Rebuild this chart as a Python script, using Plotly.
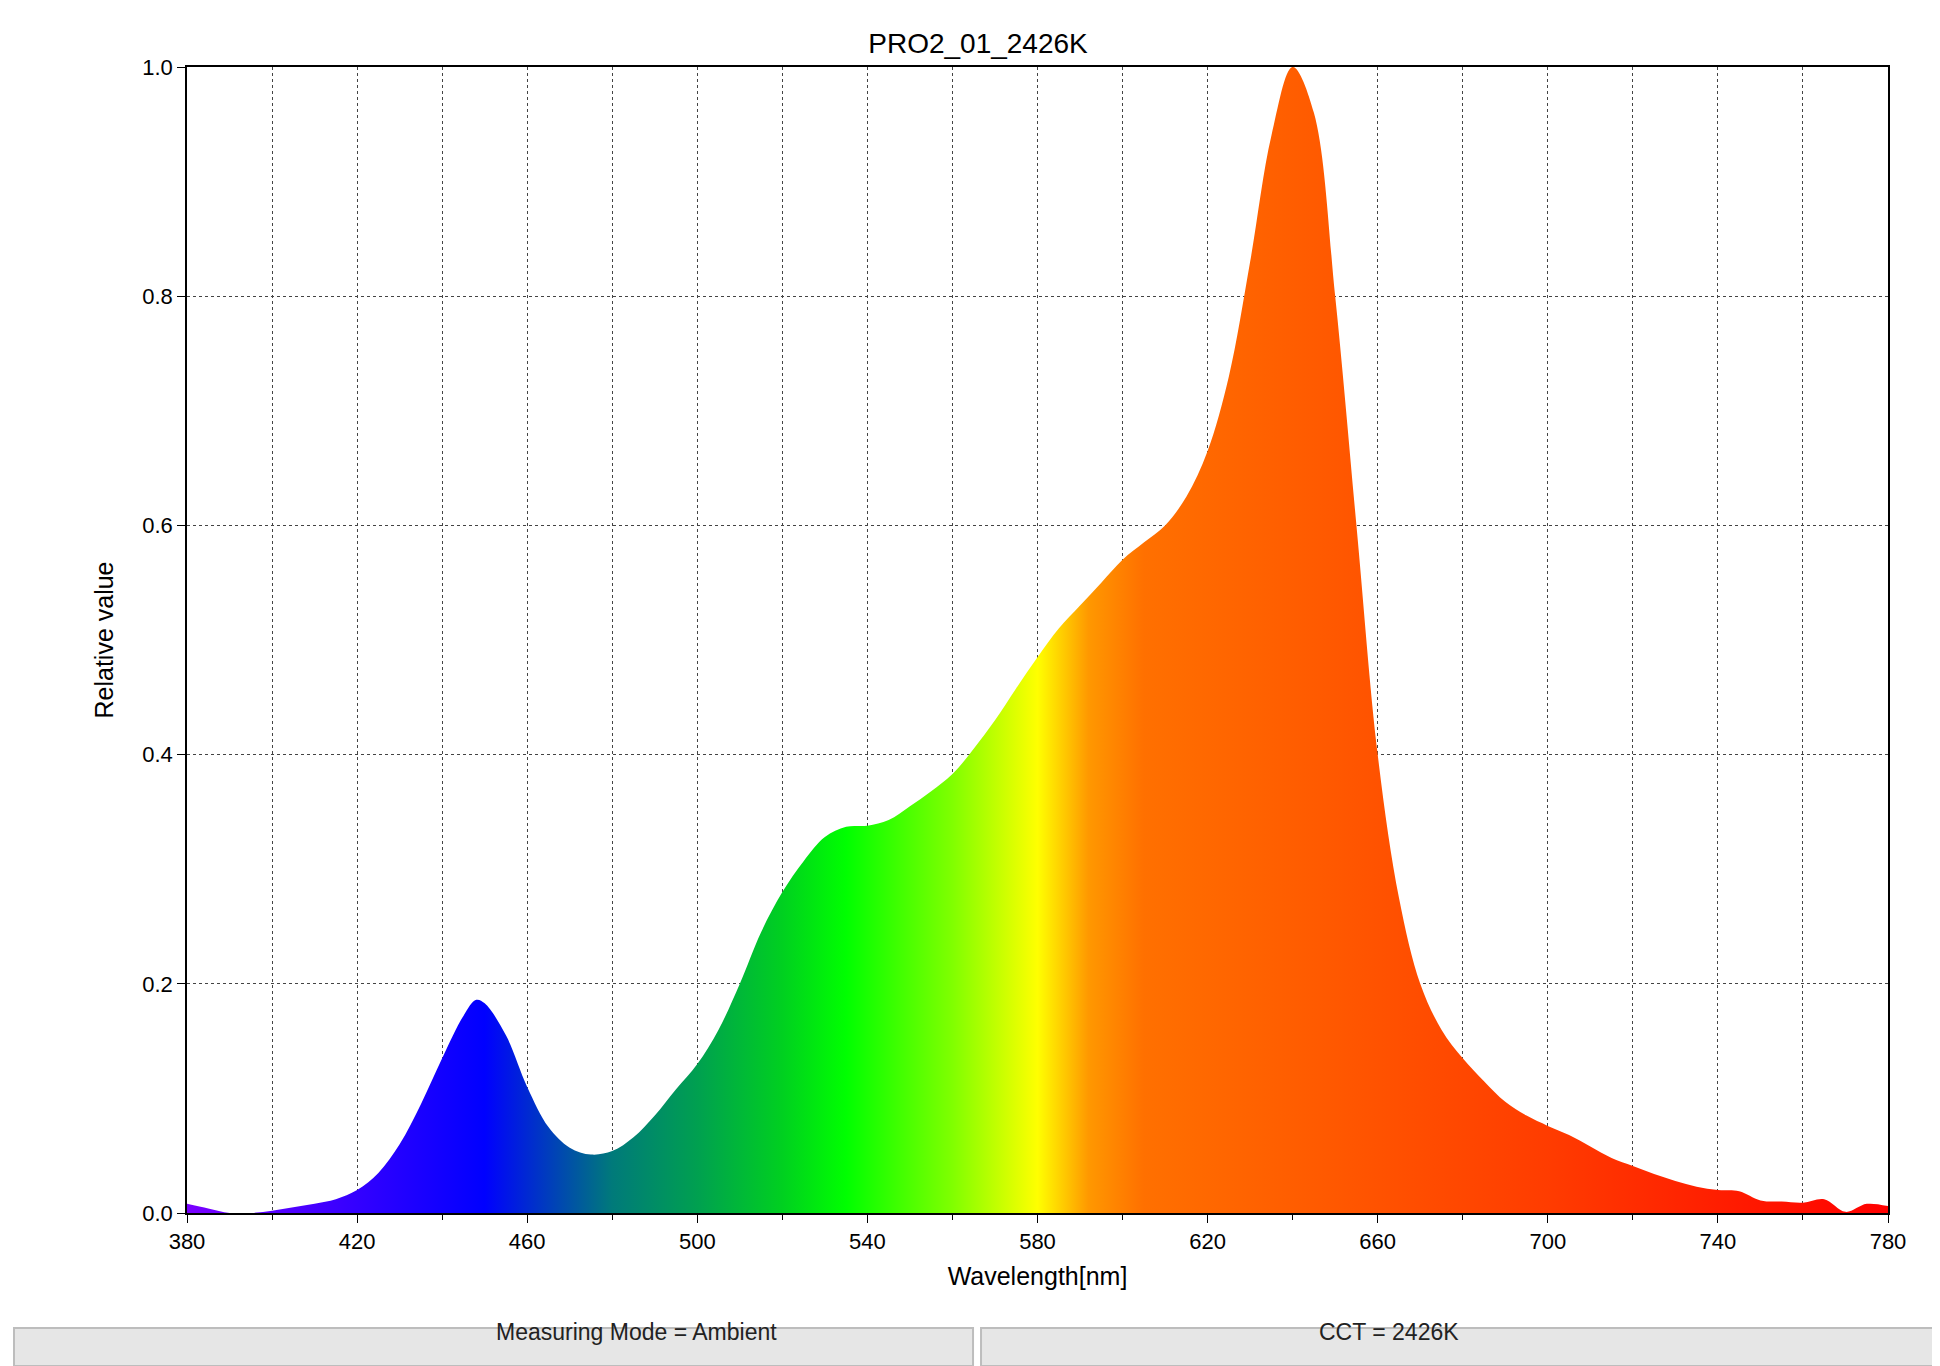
import plotly.graph_objects as go

wavelength = [380,385,390,395,400,405,410,415,420,425,430,435,440,445,448,450,455,460,465,470,475,480,485,490,495,
              500,505,510,515,520,525,530,535,540,545,550,555,560,565,570,575,580,585,590,595,600,605,610,615,620,
              625,630,635,640,645,650,655,660,665,670,675,680,685,690,695,700,705,710,715,720,725,730,735,740,745,
              750,755,760,765,770,775,780]
relative = [0.008,0.004,0.0,0.0,0.002,0.005,0.008,0.012,0.02,0.035,0.06,0.095,0.135,0.172,0.186,0.183,0.155,0.11,0.075,0.057,
            0.051,0.054,0.066,0.085,0.108,0.13,0.16,0.2,0.245,0.28,0.307,0.328,0.337,0.338,0.343,0.355,0.368,0.383,0.405,0.43,
            0.458,0.485,0.51,0.53,0.55,0.57,0.585,0.6,0.625,0.665,0.73,0.83,0.94,1.0,0.96,0.8,0.6,0.4,0.275,0.2,
            0.16,0.135,0.115,0.097,0.085,0.076,0.068,0.058,0.048,0.041,0.034,0.028,0.023,0.02,0.019,0.011,0.01,0.009,0.012,0.001,
            0.008,0.006]

title = "PRO2_01_2426K"
info_left = "Measuring Mode = Ambient"
info_right = "CCT = 2426K"

# spectrum colour stops (wavelength, colour)
stops = [(380,"#7a00ff"),(420,"#3300ff"),(450,"#0000ff"),(480,"#007a7a"),(500,"#00a050"),(520,"#00d020"),
         (535,"#00ff00"),(560,"#80ff00"),(580,"#ffff00"),(592,"#ff9800"),(605,"#ff7000"),(650,"#ff5800"),
         (700,"#ff3c00"),(780,"#ff0000")]
cscale = [[(w-380)/400, c] for w, c in stops]

fig = go.Figure()
fig.add_trace(go.Scatter(x=wavelength, y=relative, mode="lines", line=dict(width=0, shape="spline"),
                         fill="tozeroy", fillgradient=dict(type="horizontal", colorscale=cscale),
                         hoverinfo="skip", showlegend=False))

font = "Liberation Sans, Arial, sans-serif"
ax = dict(showline=True, linecolor="black", linewidth=1.5, mirror=True, ticks="outside", ticklen=8,
          tickcolor="black", showgrid=True, gridcolor="#444", griddash="dot", gridwidth=1, zeroline=False,
          tickfont=dict(size=22, color="black", family=font))
fig.update_layout(
    width=1940, height=1366, paper_bgcolor="white", plot_bgcolor="white",
    margin=dict(l=179, r=60, t=59, b=161),
    title=dict(text=title, x=0.5, xanchor="center", y=1 - 35/1366, yanchor="middle",
               font=dict(size=28, color="black", family=font)),
    xaxis=dict(ax, range=[380, 780], dtick=40, tick0=380,
               minor=dict(dtick=20, ticks="outside", ticklen=5, tickcolor="black", showgrid=True,
                          gridcolor="#444", griddash="dot"),
               title=dict(text="Wavelength[nm]", font=dict(size=25, color="black", family=font), standoff=14)),
    yaxis=dict(ax, range=[0, 1.0], dtick=0.2, tickformat=".1f",
               title=dict(text="Relative value", font=dict(size=25, color="black", family=font), standoff=22)),
)

def box(x0, x1, text):
    fig.add_shape(type="rect", xref="paper", yref="paper", x0=x0, x1=x1, y0=-0.1335, y1=-0.1003,
                  fillcolor="#e6e6e6", line=dict(color="#bdbdbd", width=2))
    fig.add_annotation(xref="paper", yref="paper", x=(x0+x1)/2, y=(-0.1335-0.1003)/2, text=text,
                       showarrow=False, font=dict(size=23, color="#222", family=font))

box(-0.1017, 0.4621, info_left)
box(0.4668, 1.0306, info_right)

fig.write_html("out.html")
